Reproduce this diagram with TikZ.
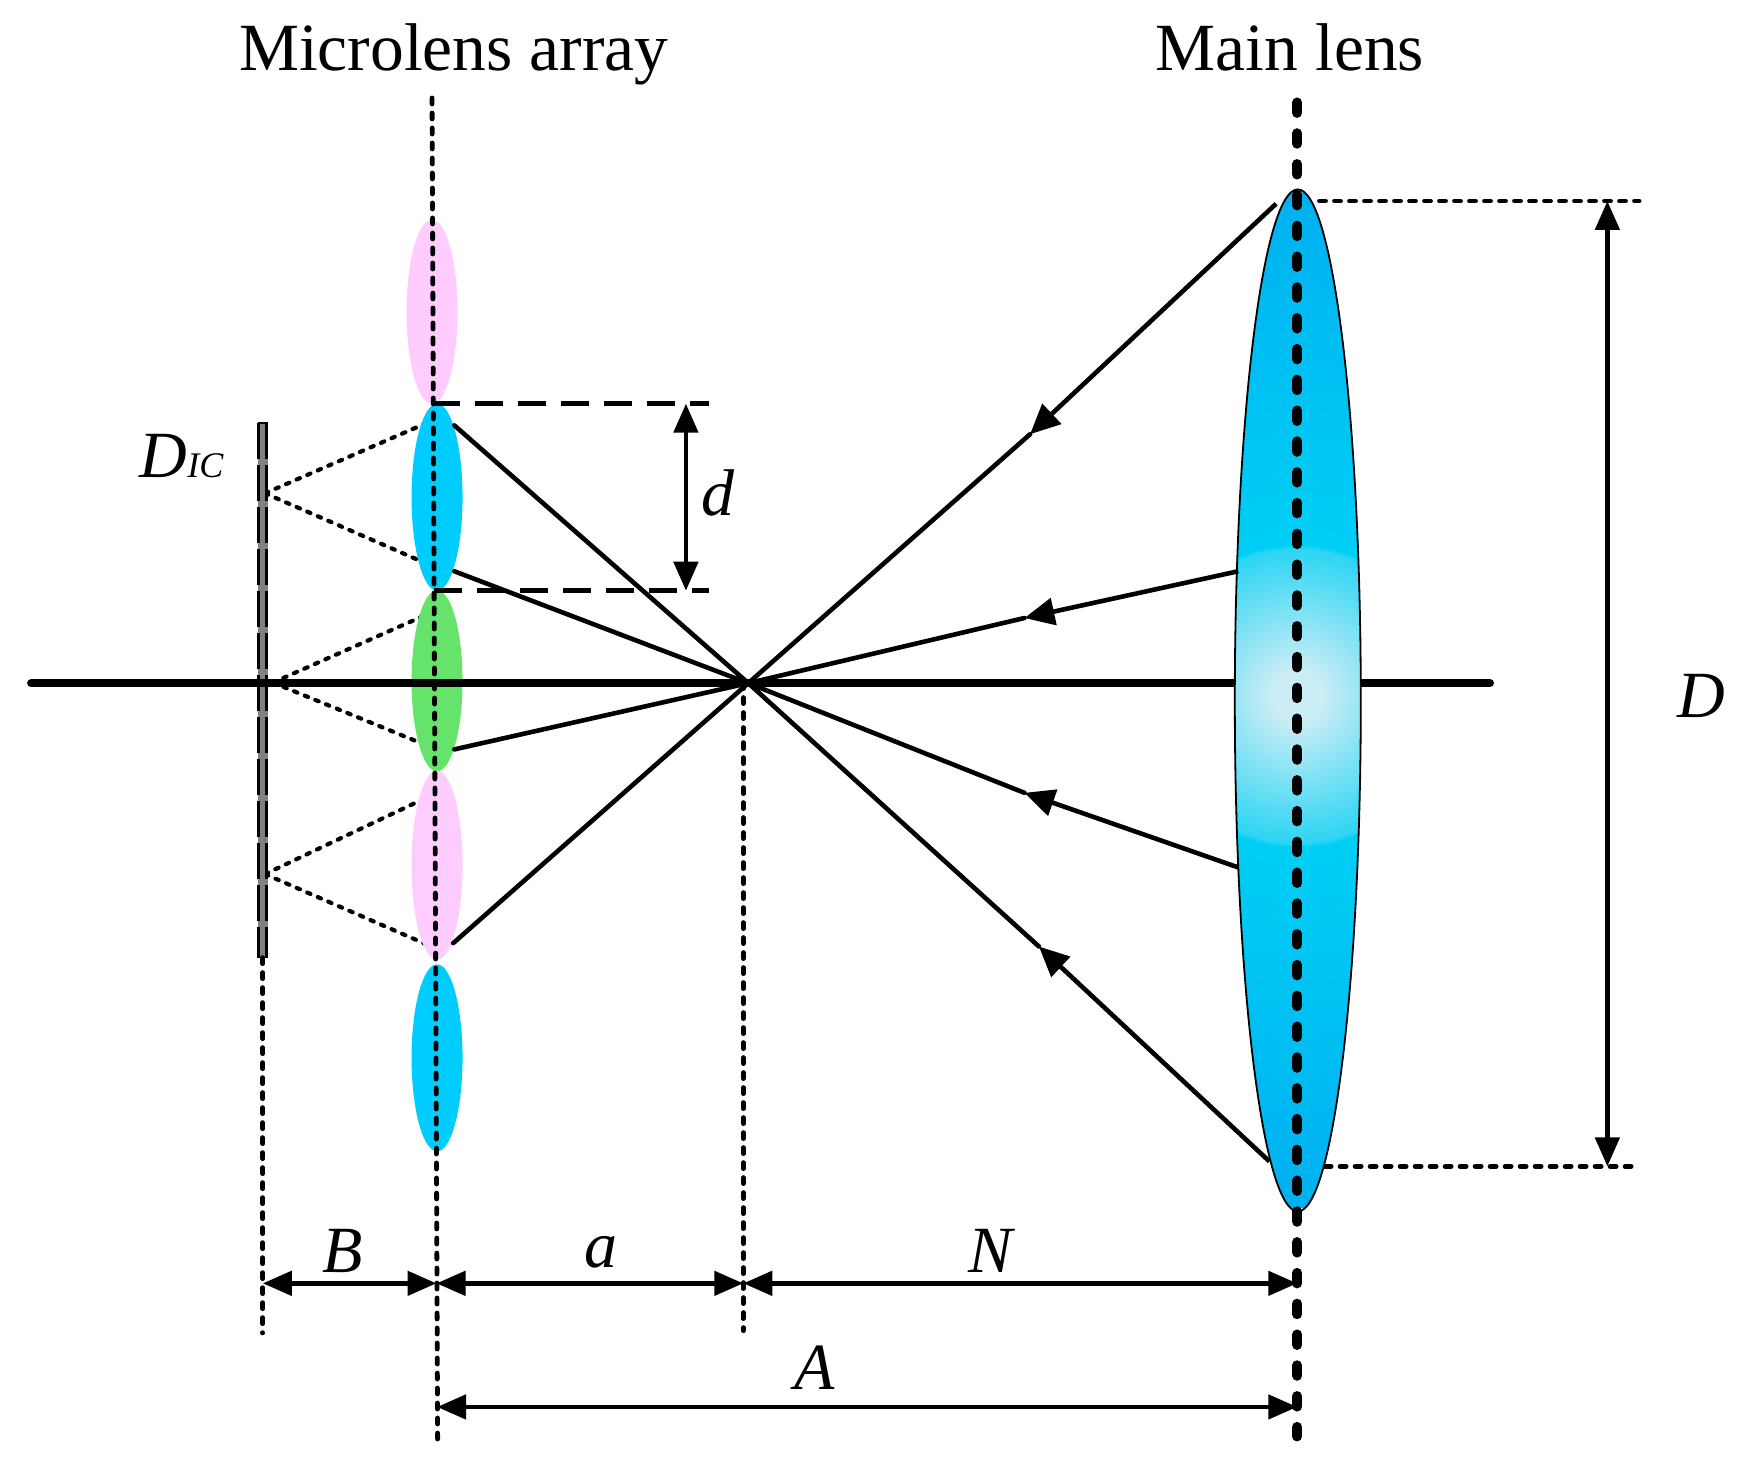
\documentclass[tikz,border=0pt]{standalone}
\usepackage{fontspec}
\setmainfont{Liberation Serif}
\usetikzlibrary{shapes.geometric,arrows.meta}
\definecolor{lensblue}{HTML}{00CCFF}
\definecolor{lensgreen}{HTML}{66E36A}
\definecolor{lenspink}{HTML}{FFCCFF}
\definecolor{mlcenter}{HTML}{CBEDF5}
\definecolor{mlband}{HTML}{2CD5F4}
\definecolor{mlcyan}{HTML}{00CFF5}
\definecolor{mltip}{HTML}{00B0F0}
\pgfdeclareradialshading{mainlensshade}{\pgfpoint{0bp}{0bp}}{color(0bp)=(mlcenter); color(1.2bp)=(mlcenter); color(7.2bp)=(mlband); color(7.4bp)=(mlcyan); color(25bp)=(mltip); color(50bp)=(mltip)}
\tikzset{
  x=1.1135pt,y=-1.1135pt,
  lens/.style={ellipse,inner sep=0pt,draw=none,minimum width=51pt},
  ray/.style={line width=4.6pt,line cap=round},
  fan/.style={line width=4.2pt,dash pattern=on 3.5pt off 8pt,line cap=round},
  guide/.style={line width=4.8pt,dash pattern=on 6pt off 9pt,line cap=round},
  longdash/.style={line width=4.6pt,dash pattern=on 28pt off 15pt},
  thickdash/.style={line width=10pt,dash pattern=on 10.5pt off 20.3pt,line cap=round},
  dim/.style={line width=4.8pt,{Triangle[length=29pt,width=24pt]}-{Triangle[length=29pt,width=24pt]}},
  rayarrow/.style={line width=4.6pt,-{Triangle[length=30pt,width=27pt]}},
  title/.style={font=\fontsize{67.5}{70}\selectfont,inner sep=0pt,anchor=base},
  sym/.style={font=\fontsize{66}{70}\selectfont\itshape,inner sep=0pt}
}
\begin{document}
\begin{tikzpicture}
\useasboundingbox (0,0) rectangle (1568,1326);
% key points
\coordinate (F) at (672,613.5);
\coordinate (axL) at (28,613.5);
\coordinate (axR) at (1338,613.5);
\coordinate (ml1) at (1146,183);
\coordinate (ml2) at (1112,513);
\coordinate (ml3) at (1112,779);
\coordinate (ml4) at (1140,1043);
\coordinate (ar1) at (925,390);
\coordinate (ar2) at (920,555);
\coordinate (ar3) at (920,712);
\coordinate (ar4) at (933,850);
\coordinate (m1) at (407,847);
\coordinate (m2) at (408,673);
\coordinate (m3) at (408,513);
\coordinate (m4) at (408,382);
\coordinate (ap1) at (238,443);
\coordinate (ap2) at (245,613);
\coordinate (ap3) at (238,785);
\coordinate (e1a) at (392,376);
\coordinate (e1b) at (392,510);
\coordinate (e2a) at (392,548);
\coordinate (e2b) at (392,673);
\coordinate (e3a) at (392,712);
\coordinate (e3b) at (392,852);
% fans, behind the microlenses
\draw[fan] (ap1) -- (e1a);
\draw[fan] (ap1) -- (e1b);
\draw[fan] (ap2) -- (e2a);
\draw[fan] (ap2) -- (e2b);
\draw[fan] (ap3) -- (e3a);
\draw[fan] (ap3) -- (e3b);
% microlenses
\node[lens,fill=lenspink,minimum height=184pt] (lensA) at (388,280) {};
\node[lens,fill=lensblue,minimum height=187pt] (lensB) at (392.5,446.5) {};
\node[lens,fill=lensgreen,minimum height=181pt] (lensC) at (392.5,611.5) {};
\node[lens,fill=lenspink,minimum height=189pt] (lensD) at (392.5,777) {};
\node[lens,fill=lensblue,minimum height=187pt] (lensE) at (392.5,950) {};
% image plane
\coordinate (barT) at (236,380);
\coordinate (barB) at (236,860);
\draw[line width=10pt,color=black!50] (barT) -- (barB);
\draw[line width=2.6pt,black] ([xshift=-5pt]barT) -- ([xshift=5pt]barT);
\draw[line width=3pt,black,dash pattern=on 36pt off 6pt] ([xshift=-4pt]barT) -- ([xshift=-4pt]barB);
\draw[line width=3pt,black,dash pattern=on 36pt off 6pt] ([xshift=4pt]barT) -- ([xshift=4pt]barB);
% optical axis
\draw[line width=8.2pt,line cap=round] (axL) -- (axR);
% microlens axis
\coordinate (maT) at (388,88);
\coordinate (maB) at (393,1293);
\draw[guide] (maT) -- (maB);
% main lens
\coordinate (mlc) at (1165.5,629);
\begin{scope}
\clip (mlc) ellipse [x radius=56.5,y radius=459];
\shade[shading=mainlensshade] (1165-459,625-459) rectangle (1165+459,625+459);
\end{scope}
\node[ellipse,draw=black,line width=1.8pt,inner sep=0pt,minimum width=126pt,minimum height=1022pt] (mainlens) at (mlc) {};
\coordinate (mT) at (1165,92);
\coordinate (mB) at (1165,1290);
\draw[thickdash] (mT) -- (mB);
% rays
\draw[rayarrow] (ml1) -- (ar1);
\draw[ray] (ar1) -- (F) -- (m1);
\draw[rayarrow] (ml2) -- (ar2);
\draw[ray] (ar2) -- (F) -- (m2);
\draw[rayarrow] (ml3) -- (ar3);
\draw[ray] (ar3) -- (F) -- (m3);
\draw[rayarrow] (ml4) -- (ar4);
\draw[ray] (ar4) -- (F) -- (m4);
% d
\coordinate (d1a) at (388,362.5);
\coordinate (d1b) at (637,362.5);
\coordinate (d2a) at (390,530.5);
\coordinate (d2b) at (637,530.5);
\coordinate (dT) at (616,362.5);
\coordinate (dB) at (616,530.5);
\draw[longdash] (d1a) -- (d1b);
\draw[longdash] (d2a) -- (d2b);
\draw[dim] (dT) -- (dB);
% D
\coordinate (DaL) at (1185,180.5);
\coordinate (DaR) at (1472,180.5);
\coordinate (DbL) at (1190,1047.5);
\coordinate (DbR) at (1468,1047.5);
\coordinate (DT) at (1443.5,180.5);
\coordinate (DB) at (1443.5,1047.5);
\draw[guide] (DaL) -- (DaR);
\draw[guide] (DbL) -- (DbR);
\draw[dim] (DT) -- (DB);
% lower guides
\coordinate (g1T) at (236,860);
\coordinate (g1B) at (236,1197);
\coordinate (g2T) at (667.5,613);
\coordinate (g2B) at (667.5,1195);
\draw[guide] (g1T) -- (g1B);
\draw[guide] (g2T) -- (g2B);
% dimensions
\coordinate (b0) at (236,1152.5);
\coordinate (b1) at (392,1152.5);
\coordinate (b2) at (667.5,1152.5);
\coordinate (b3) at (1165,1152.5);
\coordinate (c0) at (392.5,1263.5);
\coordinate (c1) at (1165,1263.5);
\draw[dim] (b0) -- (b1);
\draw[dim] (b1) -- (b2);
\draw[dim] (b2) -- (b3);
\draw[dim] (c0) -- (c1);
% labels
\node[title] (t1) at (407.5,63) {Microlens array};
\node[title] (t2) at (1158.5,63) {Main lens};
\node[sym] (lB) at (307.5,1123) {B};
\node[sym] (la) at (540,1125) {a};
\node[sym] (lN) at (889.5,1123) {N};
\node[sym] (lA) at (731.5,1228) {A};
\node[sym] (ld) at (645,443) {d};
\node[sym] (lD) at (1527.5,625) {D};
\node[sym] (lDIC) at (163,410) {D\fontsize{36}{38}\selectfont IC};
\end{tikzpicture}
\end{document}
